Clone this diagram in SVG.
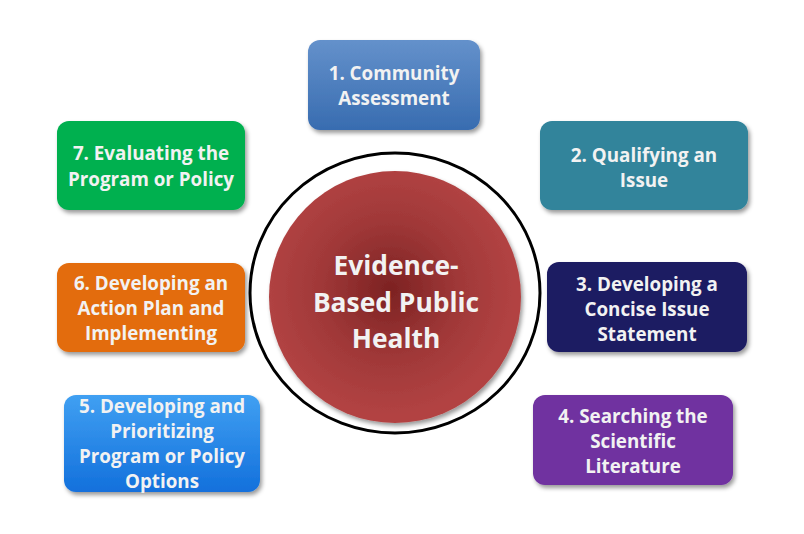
<svg xmlns="http://www.w3.org/2000/svg" width="804" height="534" viewBox="0 0 804 534">
<defs>
<filter id="sh" x="-10%" y="-10%" width="125%" height="130%">
<feDropShadow dx="2" dy="3" stdDeviation="2" flood-color="#000" flood-opacity="0.4"/>
</filter>
<linearGradient id="g1" x1="0" y1="0" x2="0" y2="1"><stop offset="0" stop-color="#6491cb"/><stop offset="1" stop-color="#386cb0"/></linearGradient>
<linearGradient id="g5" x1="0" y1="0" x2="0" y2="1"><stop offset="0" stop-color="#40a0f2"/><stop offset="1" stop-color="#1370dc"/></linearGradient>
<radialGradient id="gc" cx="0.48" cy="0.47" r="0.5"><stop offset="0" stop-color="#7c2222"/><stop offset="0.55" stop-color="#a03838"/><stop offset="1" stop-color="#b24343"/></radialGradient>
<style>
.box{filter:url(#sh)}
.t{font-family:"Open Sans","DejaVu Sans",sans-serif;font-weight:bold;font-size:18.8px;fill:#f2f2f2;text-anchor:middle}
.c{font-size:26.4px}
</style>
</defs>
<rect width="804" height="534" fill="#fff"/>
<g id="connectors"></g>
<g id="center">
<ellipse cx="395" cy="293" rx="145" ry="140" fill="none" stroke="#000" stroke-width="3"/>
<circle cx="395" cy="297" r="126" fill="url(#gc)" class="box"/>
<text class="t c" x="396" y="275">Evidence-</text>
<text class="t c" x="396" y="312">Based Public</text>
<text class="t c" x="396" y="348">Health</text>
</g>
<g id="n1">
<rect class="box" x="308" y="40" width="172" height="90" rx="12" fill="url(#g1)"/>
<text class="t" x="394" y="80">1. Community</text>
<text class="t" x="394" y="105">Assessment</text>
</g>
<g id="n2">
<rect class="box" x="540" y="121" width="208" height="89" rx="12" fill="#31849b"/>
<text class="t" x="644" y="162">2. Qualifying an</text>
<text class="t" x="644" y="187">Issue</text>
</g>
<g id="n3">
<rect class="box" x="547" y="262" width="200" height="90" rx="12" fill="#1f1a62"/>
<text class="t" x="647" y="291">3. Developing a</text>
<text class="t" x="647" y="316">Concise Issue</text>
<text class="t" x="647" y="341">Statement</text>
</g>
<g id="n4">
<rect class="box" x="533" y="395" width="200" height="90" rx="12" fill="#7030a0"/>
<text class="t" x="633" y="423">4. Searching the</text>
<text class="t" x="633" y="448">Scientific</text>
<text class="t" x="633" y="473">Literature</text>
</g>
<g id="n5">
<rect class="box" x="64" y="395" width="196" height="97" rx="12" fill="url(#g5)"/>
<text class="t" x="162" y="413">5. Developing and</text>
<text class="t" x="162" y="438">Prioritizing</text>
<text class="t" x="162" y="463">Program or Policy</text>
<text class="t" x="162" y="488">Options</text>
</g>
<g id="n6">
<rect class="box" x="57" y="263" width="188" height="89" rx="12" fill="#e36c0a"/>
<text class="t" x="151" y="290">6. Developing an</text>
<text class="t" x="151" y="315">Action Plan and</text>
<text class="t" x="151" y="340">Implementing</text>
</g>
<g id="n7">
<rect class="box" x="57" y="121" width="188" height="89" rx="12" fill="#00b050"/>
<text class="t" x="151" y="160">7. Evaluating the</text>
<text class="t" x="151" y="186">Program or Policy</text>
</g>
</svg>
